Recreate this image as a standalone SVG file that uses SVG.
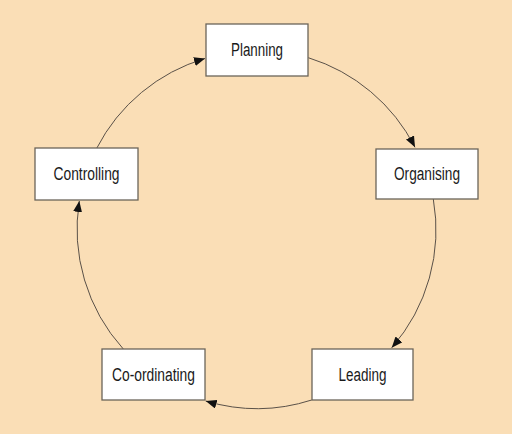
<svg xmlns="http://www.w3.org/2000/svg" width="512" height="434" viewBox="0 0 512 434">
<style>
.box{fill:#ffffff;stroke:#6b6459;stroke-width:1.3}
.lbl{font-family:"Liberation Sans",Arial,sans-serif;font-size:18px;fill:#1a1a1a;text-anchor:middle}
.arc{fill:none;stroke:#5a5148;stroke-width:1}
</style>
<defs>
<marker id="ah" markerWidth="12" markerHeight="9" refX="11" refY="4.5" orient="auto" markerUnits="userSpaceOnUse">
<path d="M0,0 L11,4.5 L0,9 Z" fill="#111111"/>
</marker>
</defs>
<rect x="0" y="0" width="512" height="434" fill="#FADEB6"/>
<g id="connectors">
<path class="arc" d="M308.3,57.7 A179,179 0 0 1 415,147.3" marker-end="url(#ah)"/>
<path class="arc" d="M433.3,199 A179,179 0 0 1 391.7,347.7" marker-end="url(#ah)"/>
<path class="arc" d="M311.7,400 A179,179 0 0 1 205.7,401" marker-end="url(#ah)"/>
<path class="arc" d="M123.3,349 A179,179 0 0 1 79.3,201" marker-end="url(#ah)"/>
<path class="arc" d="M96.7,148.3 A179,179 0 0 1 205,58.5" marker-end="url(#ah)"/>
</g>
<g id="planning">
<rect class="box" x="206" y="24" width="102" height="52"/>
<text class="lbl" x="257" y="55.5" textLength="52" lengthAdjust="spacingAndGlyphs">Planning</text>
</g>
<g id="organising">
<rect class="box" x="376" y="149" width="102" height="50"/>
<text class="lbl" x="427" y="179.5" textLength="66" lengthAdjust="spacingAndGlyphs">Organising</text>
</g>
<g id="leading">
<rect class="box" x="312" y="349" width="101" height="51"/>
<text class="lbl" x="362.5" y="380.5" textLength="48" lengthAdjust="spacingAndGlyphs">Leading</text>
</g>
<g id="coordinating">
<rect class="box" x="102" y="349" width="103" height="51"/>
<text class="lbl" x="153.5" y="380.5" textLength="83" lengthAdjust="spacingAndGlyphs">Co-ordinating</text>
</g>
<g id="controlling">
<rect class="box" x="35" y="148" width="103" height="52"/>
<text class="lbl" x="86.5" y="179.5" textLength="66" lengthAdjust="spacingAndGlyphs">Controlling</text>
</g>
</svg>
